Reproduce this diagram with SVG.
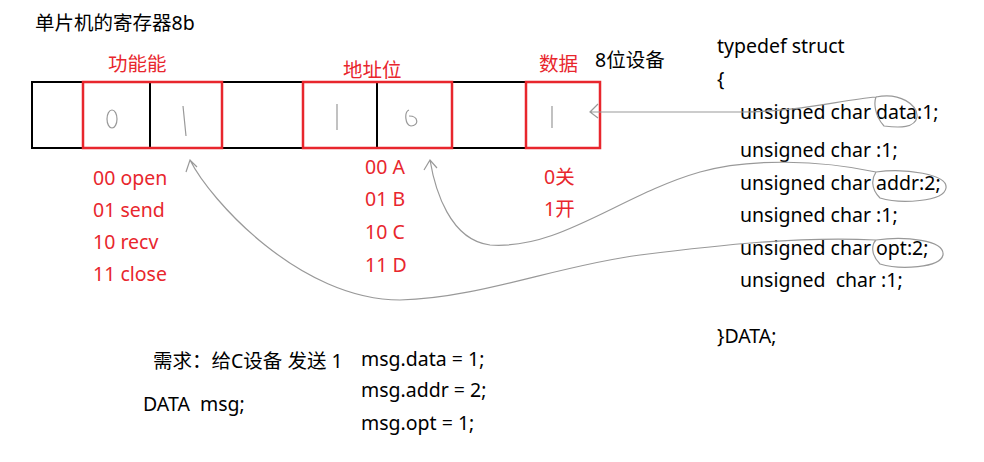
<svg xmlns="http://www.w3.org/2000/svg" width="984" height="462" viewBox="0 0 984 462">
<style>
text{font-family:"Noto Sans","Noto Sans CJK SC",sans-serif;font-size:19.5px;fill:#000}
.r{fill:#e8262d}
.cell{fill:none;stroke:#000;stroke-width:2}
.red{fill:none;stroke:#e8262d;stroke-width:2.5}
.hand{fill:none;stroke:#999;stroke-width:1.2}
</style>
<rect width="984" height="462" fill="#fff"/>
<text x="35" y="30">单片机的寄存器8b</text>
<g id="register">
<rect class="cell" x="32" y="82" width="568" height="66"/>
<path class="cell" d="M83 82V148M150 82V148M222 82V148M303 82V148M377 82V148M452 82V148M526 82V148"/>
<rect class="red" x="83" y="82" width="139" height="66"/>
<rect class="red" x="303" y="82" width="149" height="66"/>
<rect class="red" x="526" y="82" width="74" height="66"/>
<ellipse class="hand" cx="112" cy="119" rx="5" ry="9"/>
<path class="hand" d="M183 106L186 136M337 104V130M409 110C404 112 405 125 411 126C419 126 419 116 409 116M552 106V128"/>
</g>
<text class="r" x="108" y="71">功能能</text>
<text class="r" x="343" y="77">地址位</text>
<text class="r" x="539" y="71">数据</text>
<text x="595" y="67">8位设备</text>
<g id="opt-values">
<text class="r" x="93" y="185">00 open</text>
<text class="r" x="93" y="217">01 send</text>
<text class="r" x="93" y="249">10 recv</text>
<text class="r" x="93" y="281">11 close</text>
</g>
<g id="addr-values">
<text class="r" x="365" y="174">00 A</text>
<text class="r" x="365" y="206">01 B</text>
<text class="r" x="365" y="239">10 C</text>
<text class="r" x="365" y="272">11 D</text>
</g>
<g id="data-values">
<text class="r" x="544" y="184">0关</text>
<text class="r" x="544" y="216">1开</text>
</g>
<g id="struct">
<text x="717" y="53">typedef struct</text>
<text x="717" y="86">{</text>
<text x="740" y="119">unsigned char data:1;</text>
<text x="740" y="157">unsigned char :1;</text>
<text x="740" y="190">unsigned char addr:2;</text>
<text x="740" y="222">unsigned char :1;</text>
<text x="740" y="255">unsigned char opt:2;</text>
<text x="740" y="287">unsigned&#160; char :1;</text>
<text x="717" y="343">}DATA;</text>
</g>
<g id="usage">
<text x="153" y="368">需求：给C设备 发送 1</text>
<text x="143" y="411">DATA&#160; msg;</text>
<text x="361" y="366">msg.data = 1;</text>
<text x="361" y="397">msg.addr = 2;</text>
<text x="361" y="430">msg.opt = 1;</text>
</g>
<g id="connectors">
<path class="hand" d="M876 97C900 92 918 105 917 117C915 128 900 128 884 126C874 115 874 102 876 97C840 100 800 112 740 112L590 112M598 104L590 112L598 118"/>
<path class="hand" d="M876 172C905 168 948 174 946 188C944 202 900 204 880 198C870 188 872 178 876 172C820 160 750 158 700 172C620 195 560 250 490 245C450 240 435 190 430 160M424 170L430 160L437 168"/>
<path class="hand" d="M876 240C905 236 945 240 943 255C940 268 900 270 880 264C870 254 872 244 876 240C800 236 720 245 640 255C560 265 480 298 400 300C300 300 210 200 190 160M186 172L190 160L197 167"/>
</g>
</svg>
